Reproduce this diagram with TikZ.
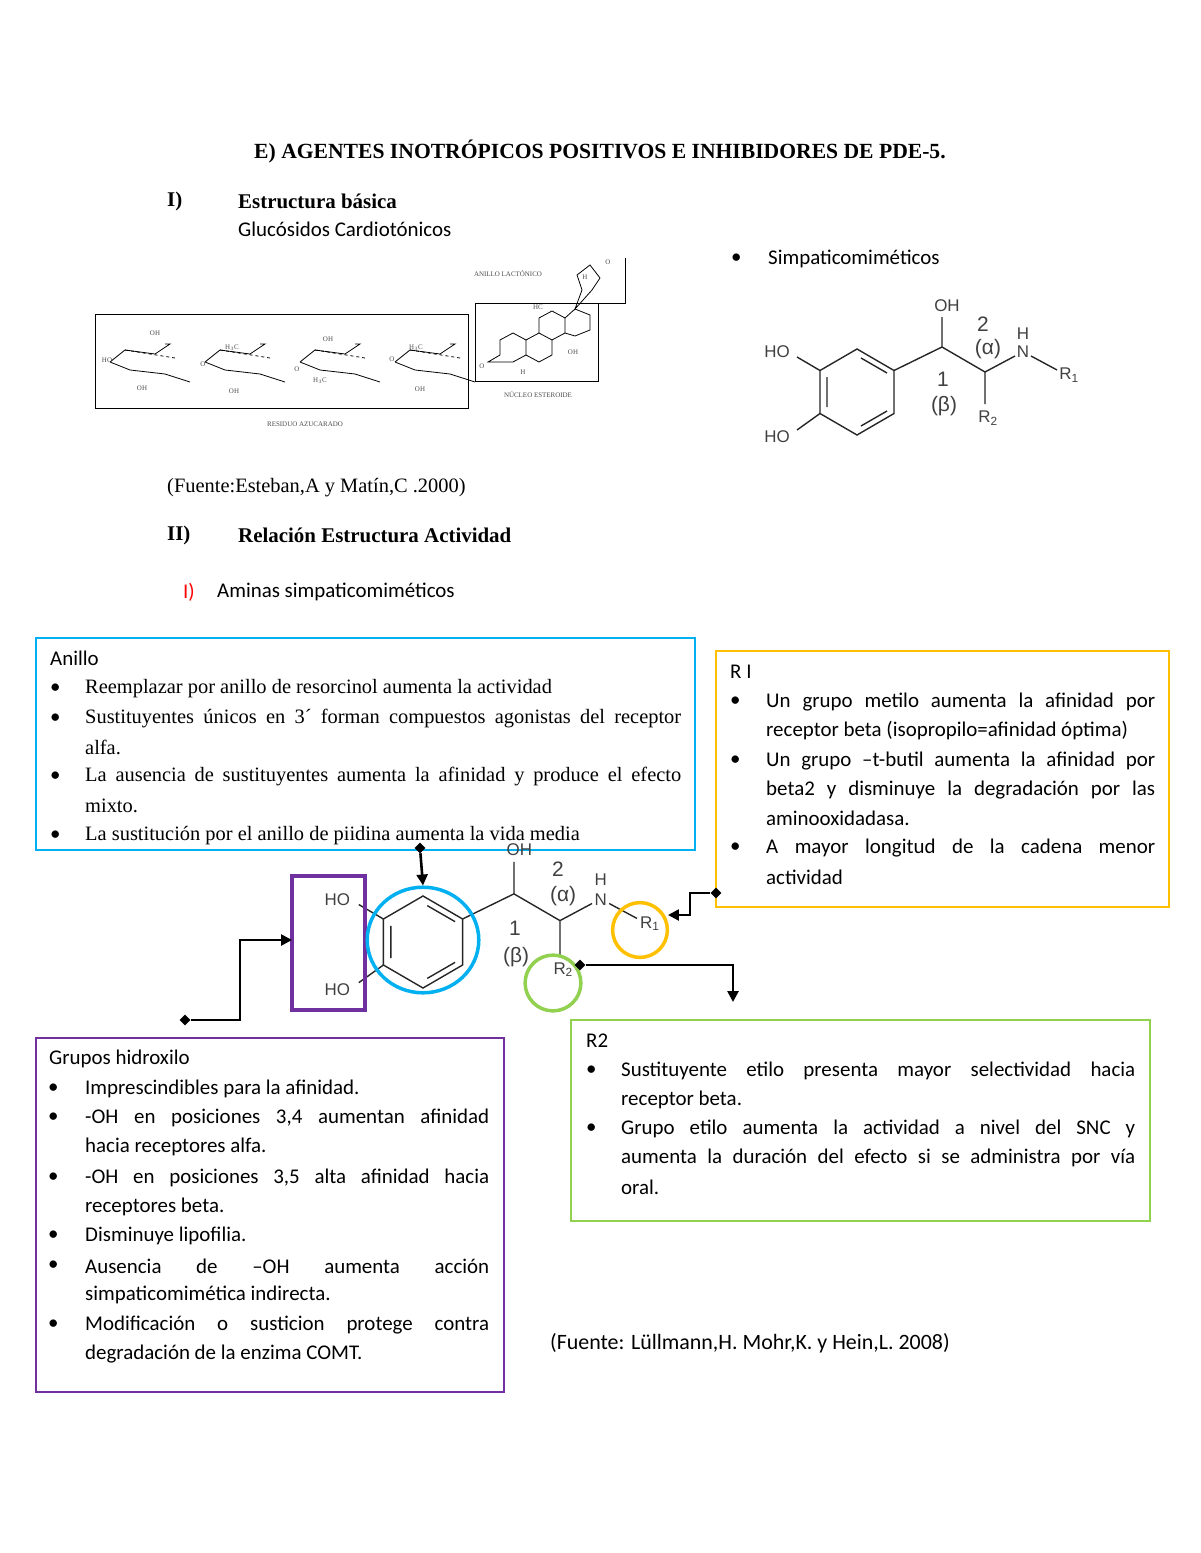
\documentclass[tikz,border=0pt]{standalone}
\usepackage{fontspec}
\setmainfont{Liberation Serif}
\newfontfamily\calfnt{Carlito}
\newfontfamily\helfnt{Liberation Sans}
\usetikzlibrary{arrows.meta,shapes.geometric}
\definecolor{cblue}{HTML}{00B0F0}
\definecolor{cpurp}{HTML}{7030A0}
\definecolor{corange}{HTML}{FFC000}
\definecolor{cgreen}{HTML}{92D050}
\newcommand\jl[2]{\hbox to #1{\spaceskip=0pt plus 1fil\relax #2}}
\newcommand\molec[4]{%
\begin{scope}[shift={(#1,#2)},scale=#3,line width=1.4,color=black!85]
\draw (0,-43)--(37,-21.5)--(37,21.5)--(0,43)--(-37,21.5)--(-37,-21.5)--cycle;
\draw (4,-34)--(30,-19) (-30,-15)--(-30,15) (4,34)--(30,19);
\draw (-37,-21.5)--(-60,-35) (-37,21.5)--(-60,38);
\draw (37,-21.5)--(85,-45)--(85,-75) (85,-45)--(128,-20)--(128,12) (128,-20)--(158,-36) (174,-36)--(200,-22);
\node[mol] (#4ho1) at (-80,-40) {HO};
\node[mol] (#4ho2) at (-80,45) {HO};
\node[mol] (#4oh) at (90,-86) {OH};
\node[mol] (#4n) at (166,-40) {N};
\node[mol] (#4h) at (166,-58) {H};
\node[mol] (#4r1) at (212,-17) {R\textsubscript{1}};
\node[mol] (#4r2) at (131,26) {R\textsubscript{2}};
\node[molb] (#4two) at (126,-68) {2};
\node[molb] (#4al) at (131,-43) {(α)};
\node[molb] (#4one) at (86,-13) {1};
\node[molb] (#4be) at (87,14) {(β)};
\end{scope}}
\newcommand\sugar[2]{\draw[line width=0.8] (#1,#2) ++(-40,0) -- ++(15,-12) -- ++(30,4) -- ++(15,-10) -- ++(-5,0) (#1,#2) ++(-40,0) -- ++(20,8) -- ++(35,4) -- ++(25,8);
\draw[line width=0.8,dashed] (#1,#2) ++(-25,-12) -- ++(50,8);}
\begin{document}
\begin{tikzpicture}[x=1bp,y=-1bp,
 mol/.style={font=\helfnt\fontsize{17}{17}\selectfont,text=black!75,inner sep=1pt},
 molb/.style={font=\helfnt\fontsize{21}{21}\selectfont,text=black!75,inner sep=1pt},
 tx/.style={anchor=west,inner sep=0pt,font=\fontsize{20.5}{22}\selectfont},
 ct/.style={anchor=west,inner sep=0pt,font=\calfnt\fontsize{21}{22}\selectfont},
 hd/.style={anchor=west,inner sep=0pt,font=\bfseries\fontsize{21}{22}\selectfont},
 tiny/.style={font=\fontsize{7}{7}\selectfont,inner sep=0.5pt,text=black!70},
 con/.style={line width=2.6,-{Triangle[length=11,width=11]}},
 dia/.style={diamond,fill=black,inner sep=0pt,minimum size=11,draw=none},
 bx/.style={line width=1.3}]
\useasboundingbox[fill=white] (0,0) rectangle (1200,1553);
\node[font=\bfseries\fontsize{21.7}{24}\selectfont] (title) at (600,152) {E) AGENTES INOTRÓPICOS POSITIVOS E INHIBIDORES DE PDE-5.};
\node[hd] (i1) at (167,201) {I)};
\node[hd] (eb) at (238,201) {Estructura básica};
\node[ct] (gc) at (238,229) {Glucósidos Cardiotónicos};
\node[ct] (b0) at (731,259) {•};
\node[ct] (sm) at (768,259) {Simpaticomiméticos};
% glucoside sketch
\draw[line width=0.9] (95,314) rectangle (468,408) (475,303) rectangle (598,381);
\draw[line width=0.9] (598,303)--(625,303)--(625,258);
\foreach \x in {150,245,340,435} {\sugar{\x}{362}}
\node[tiny] (g1) at (107,360) {HO};
\node[tiny] (g2) at (155,333) {OH};
\node[tiny] (g3) at (142,388) {OH};
\node[tiny] (g4) at (232,348) {H$_3$C};
\node[tiny] (g5) at (234,391) {OH};
\node[tiny] (g6) at (328,339) {OH};
\node[tiny] (g7) at (320,381) {H$_3$C};
\node[tiny] (g8) at (416,348) {H$_3$C};
\node[tiny] (g9) at (420,389) {OH};
\node[tiny] (o1) at (203,364) {O};
\node[tiny] (o2) at (297,369) {O};
\node[tiny] (o3) at (392,359) {O};
\node[tiny] (o4) at (482,366) {O};
\begin{scope}[line width=0.8]
\draw (488,362)--(500,355)--(500,340)--(513,333)--(526,340)--(526,355)--(513,362)--cycle;
\draw (526,340)--(539,333)--(552,340)--(552,355)--(539,362)--(526,355);
\draw (539,333)--(539,318)--(552,311)--(565,318)--(565,333)--(552,340);
\draw (565,318)--(575,309)--(590,315)--(590,330)--(575,336)--(565,333);
\draw (575,309)--(582,290)--(577,275)--(590,265)--(600,278)--(592,290)--cycle;
\end{scope}
\node[tiny] (st1) at (538,307) {HC};
\node[tiny] (st2) at (573,352) {OH};
\node[tiny] (st3) at (523,372) {H};
\node[tiny] (st4) at (608,262) {O};
\node[tiny] (st5) at (585,277) {H};
\node[tiny] (lab1) at (508,274) {ANILLO LACTÓNICO};
\node[tiny] (lab2) at (538,395) {NÚCLEO ESTEROIDE};
\node[tiny] (lab3) at (305,424) {RESIDUO AZUCARADO};
% top molecule
\molec{857}{392}{1}{t}
\node[tx] (f1) at (167,488) {(Fuente:Esteban,A y Matín,C .2000)};
\node[hd] (ii) at (167,535) {II)};
\node[hd] (rea) at (238,535) {Relación Estructura Actividad};
\node[ct,text=red] (ir) at (183,592) {I)};
\node[ct] (am) at (217,592) {Aminas simpaticomiméticos};
% Anillo box
\draw[bx,draw=cblue] (36,638) rectangle (695,850);
\node[ct] (an) at (50,658) {Anillo};
\foreach \y in {689,719,777,836} {\node[ct] at (50,\y) {•};}
\node[tx] (a1) at (85,689) {Reemplazar por anillo de resorcinol aumenta la actividad};
\node[tx] (a2) at (85,719) {\jl{596bp}{Sustituyentes únicos en 3´ forman compuestos agonistas del receptor}};
\node[tx] (a3) at (85,747) {alfa.};
\node[tx] (a4) at (85,777) {\jl{596bp}{La ausencia de sustituyentes aumenta la afinidad y produce el efecto}};
\node[tx] (a5) at (85,806) {mixto.};
\node[tx] (a6) at (85,836) {La sustitución por el anillo de piidina aumenta la vida media};
% R1 box
\draw[bx,draw=corange] (716,651) rectangle (1169,907);
\node[ct] (r1t) at (730,672) {R I};
\foreach \y in {702,761,848} {\node[ct] at (730,\y) {•};}
\node[ct] (c1) at (766,702) {\jl{389bp}{Un grupo metilo aumenta la afinidad por}};
\node[ct] (c2) at (766,731) {receptor beta (isopropilo=afinidad óptima)};
\node[ct] (c3) at (766,761) {\jl{389bp}{Un grupo –t-butil aumenta la afinidad por}};
\node[ct] (c4) at (766,790) {\jl{389bp}{beta2 y disminuye la degradación por las}};
\node[ct] (c5) at (766,818) {aminooxidadasa.};
\node[ct] (c6) at (766,848) {\jl{389bp}{A mayor longitud de la cadena menor}};
\node[ct] (c7) at (766,877) {actividad};
% central molecule
\molec{423}{942}{1.07}{c}
\draw[line width=3.5,draw=cpurp] (292,876) rectangle (365,1010);
\node[draw=cblue,line width=3.5,ellipse,minimum width=112,minimum height=106] (ring) at (423,940) {};
\node[draw=corange,line width=3.5,circle,minimum size=55] (cr1) at (640,930) {};
\node[draw=cgreen,line width=3.5,circle,minimum size=56] (cr2) at (553,983) {};
\coordinate (hob) at (292,940);
% connectors
\node[dia] (d1) at (420,848) {};
\draw[con] (d1) -- (ring.north);
\node[dia] (d2) at (185,1020) {};
\draw[con] (d2) -- (240,1020) -- (240,940) -- (hob);
\node[dia] (d3) at (716,893) {};
\draw[con] (d3) -- (690,893) -- (690,915) -- (668,915);
\node[dia] (d4) at (580,965) {};
\coordinate (e4) at (733,1002);
\draw[con] (d4) -- (733,965) -- (e4);
% Grupos box
\draw[bx,draw=cpurp] (36,1038) rectangle (504,1392);
\node[ct] (gh) at (49,1059) {Grupos hidroxilo};
\foreach \y in {1089,1118,1178,1236,1266,1325} {\node[ct] at (48,\y) {•};}
\node[ct] (h1) at (85,1089) {Imprescindibles para la afinidad.};
\node[ct] (h2) at (85,1118) {\jl{404bp}{-OH en posiciones 3,4 aumentan afinidad}};
\node[ct] (h3) at (85,1147) {hacia receptores alfa.};
\node[ct] (h4) at (85,1178) {\jl{404bp}{-OH en posiciones 3,5 alta afinidad hacia}};
\node[ct] (h5) at (85,1207) {receptores beta.};
\node[ct] (h6) at (85,1236) {Disminuye lipofilia.};
\node[ct] (h7) at (85,1266) {\jl{404bp}{Ausencia de –OH aumenta acción}};
\node[ct] (h8) at (85,1295) {simpaticomimética indirecta.};
\node[ct] (h9) at (85,1325) {\jl{404bp}{Modificación o susticion protege contra}};
\node[ct] (h10) at (85,1354) {degradación de la enzima COMT.};
% R2 box
\draw[bx,draw=cgreen] (571,1020) rectangle (1150,1221);
\node[ct] (r2t) at (586,1041) {R2};
\foreach \y in {1071,1129} {\node[ct] at (586,\y) {•};}
\node[ct] (s1) at (621,1071) {\jl{514bp}{Sustituyente etilo presenta mayor selectividad hacia}};
\node[ct] (s2) at (621,1100) {receptor beta.};
\node[ct] (s3) at (621,1129) {\jl{514bp}{Grupo etilo aumenta la actividad a nivel del SNC y}};
\node[ct] (s4) at (621,1158) {\jl{514bp}{aumenta la duración del efecto si se administra por vía}};
\node[ct] (s5) at (621,1187) {oral.};
\node[ct,font=\calfnt\fontsize{22}{22}\selectfont] (f2) at (550,1343) {(Fuente: Lüllmann,H. Mohr,K. y Hein,L. 2008)};
\end{tikzpicture}
\end{document}
